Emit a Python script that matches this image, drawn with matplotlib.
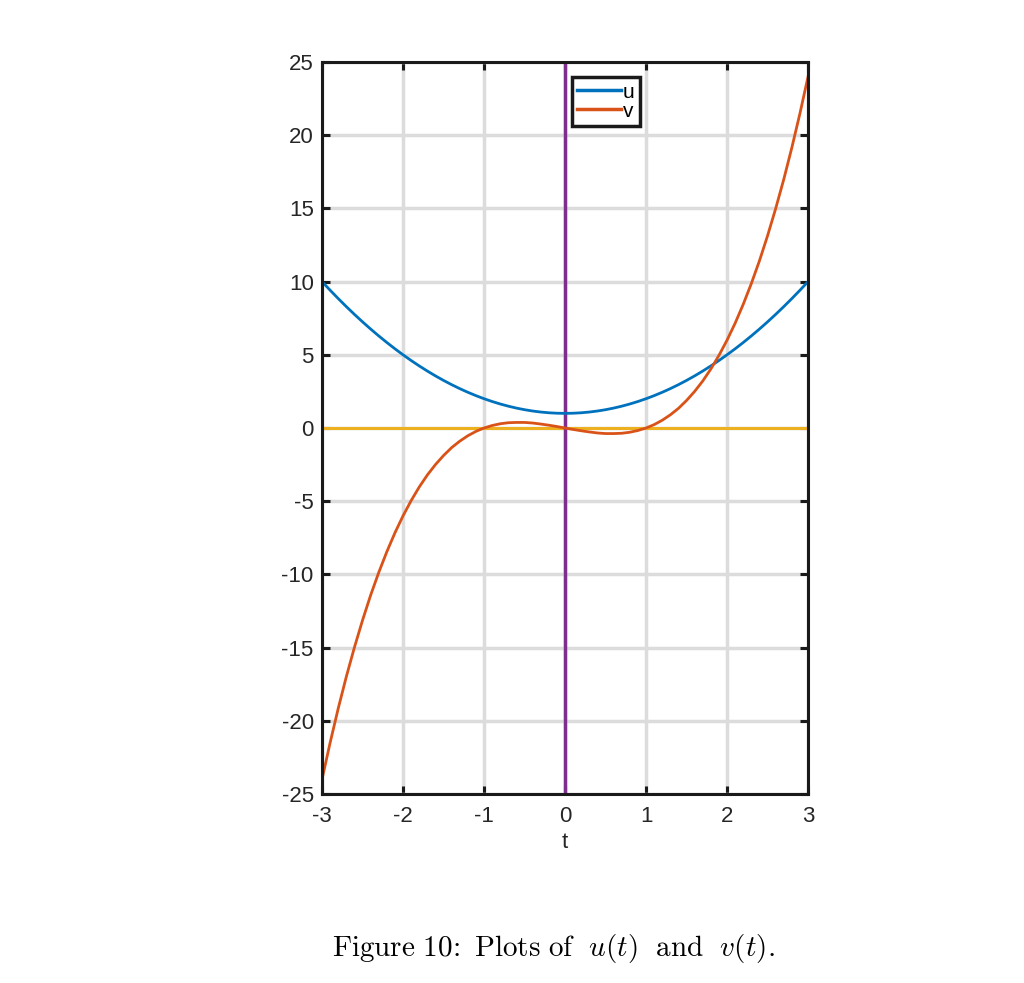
import matplotlib.pyplot as plt

plt.rcParams['font.family'] = ['Liberation Sans', 'DejaVu Sans']
plt.rcParams['mathtext.fontset'] = 'cm'
plt.rcParams['axes.unicode_minus'] = False

# valores
t = [-3.0, -2.9, -2.8, -2.7, -2.6, -2.5, -2.4, -2.3, -2.2, -2.1, -2.0,
     -1.9, -1.8, -1.7, -1.6, -1.5, -1.4, -1.3, -1.2, -1.1, -1.0,
     -0.9, -0.8, -0.7, -0.6, -0.5, -0.4, -0.3, -0.2, -0.1, 0.0,
     0.1, 0.2, 0.3, 0.4, 0.5, 0.6, 0.7, 0.8, 0.9, 1.0,
     1.1, 1.2, 1.3, 1.4, 1.5, 1.6, 1.7, 1.8, 1.9, 2.0,
     2.1, 2.2, 2.3, 2.4, 2.5, 2.6, 2.7, 2.8, 2.9, 3.0]
u = [10.0, 9.41, 8.84, 8.29, 7.76, 7.25, 6.76, 6.29, 5.84, 5.41, 5.0,
     4.61, 4.24, 3.89, 3.56, 3.25, 2.96, 2.69, 2.44, 2.21, 2.0,
     1.81, 1.64, 1.49, 1.36, 1.25, 1.16, 1.09, 1.04, 1.01, 1.0,
     1.01, 1.04, 1.09, 1.16, 1.25, 1.36, 1.49, 1.64, 1.81, 2.0,
     2.21, 2.44, 2.69, 2.96, 3.25, 3.56, 3.89, 4.24, 4.61, 5.0,
     5.41, 5.84, 6.29, 6.76, 7.25, 7.76, 8.29, 8.84, 9.41, 10.0]
v = [-24.0, -21.49, -19.15, -16.98, -14.98, -13.13, -11.42, -9.87, -8.45, -7.16, -6.0,
     -4.96, -4.03, -3.21, -2.5, -1.88, -1.34, -0.9, -0.53, -0.23, 0.0,
     0.17, 0.29, 0.36, 0.38, 0.38, 0.34, 0.27, 0.19, 0.1, 0.0,
     -0.1, -0.19, -0.27, -0.34, -0.38, -0.38, -0.36, -0.29, -0.17, 0.0,
     0.23, 0.53, 0.9, 1.34, 1.88, 2.5, 3.21, 4.03, 4.96, 6.0,
     7.16, 8.45, 9.87, 11.42, 13.13, 14.98, 16.98, 19.15, 21.49, 24.0]
xticks = [-3, -2, -1, 0, 1, 2, 3]
yticks = [-25, -20, -15, -10, -5, 0, 5, 10, 15, 20, 25]

fig = plt.figure(figsize=(10.24, 9.83), dpi=100)
ax = fig.add_axes([0.3145, 0.1923, 0.4746, 0.7446])

ax.plot(t, u, color='#0072BD', lw=2, label='u', zorder=3)
ax.plot(t, v, color='#D95319', lw=2, label='v', zorder=3)
ax.plot([t[0], t[-1]], [0, 0], color='#EDB120', lw=2.2, zorder=2)
ax.plot([0, 0], [yticks[0], yticks[-1]], color='#7E2F8E', lw=2.5, zorder=2)

ax.set_xlim(-3, 3)
ax.set_ylim(-25, 25)
ax.set_xticks(xticks)
ax.set_yticks(yticks)
ax.grid(True, color='#dcdcdc', lw=2.5, zorder=0)
ax.set_axisbelow(True)
for s in ax.spines.values():
    s.set_linewidth(2.2)
    s.set_color('#1a1a1a')
    s.set_zorder(5)
ax.tick_params(direction='in', length=6, width=2.2, top=True, right=True,
               labelsize=16, colors='#1a1a1a', labelcolor='#262626')
ax.tick_params(axis='x', pad=9)
ax.tick_params(axis='y', pad=6)
ax.set_xlabel('t', fontsize=16, labelpad=3, color='#262626')

leg = ax.legend(loc='upper left', bbox_to_anchor=(0.514, 0.979), fontsize=15,
                handlelength=2.1, handletextpad=0.1, borderpad=0.25,
                labelspacing=0.0, fancybox=False, framealpha=1, borderaxespad=0)
leg.get_frame().set_edgecolor('#1a1a1a')
leg.get_frame().set_linewidth(2.5)
for ln in leg.get_lines():
    ln.set_linewidth(2.5)

fig.text(0.540, 0.027, r'$\mathrm{Figure\ 10\!:\ Plots\ of}\ \ u(t)\ \ \mathrm{and}\ \ v(t).$',
         ha='center', va='baseline', fontsize=21)

fig.savefig('out.png', dpi=100)
